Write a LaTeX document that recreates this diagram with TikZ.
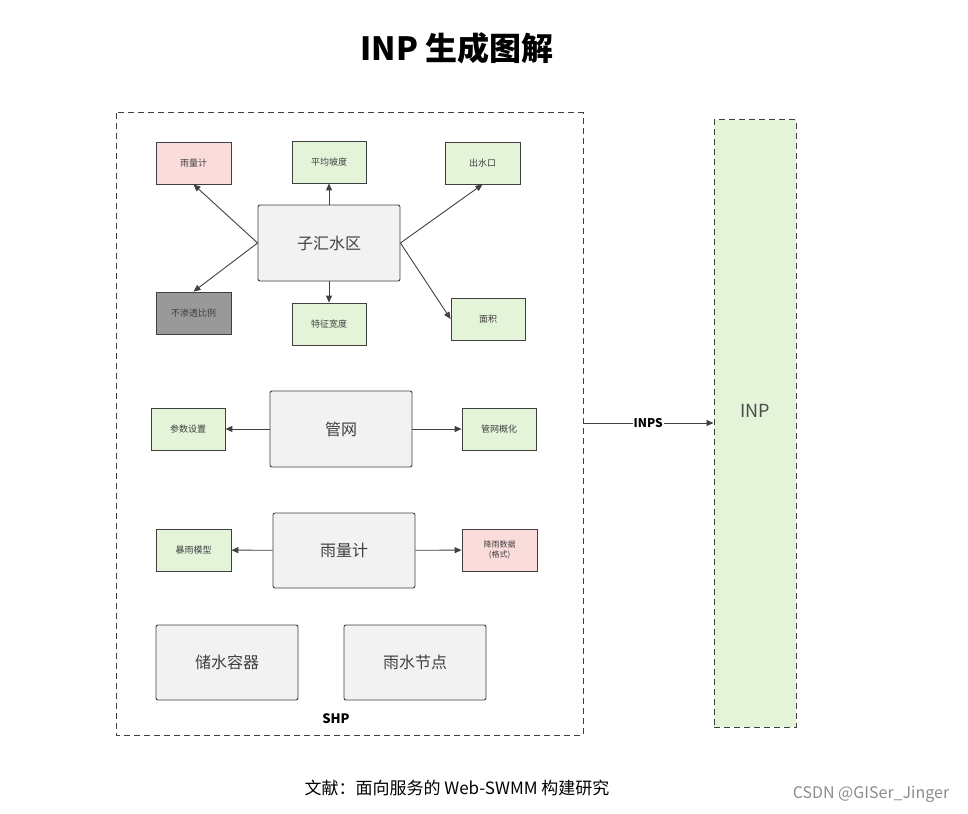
\documentclass[tikz,border=0pt]{standalone}
\usepackage{fontspec}
\setmainfont{Noto Sans CJK SC}
\usetikzlibrary{arrows.meta}
\definecolor{boxgreen}{HTML}{E3F4D9}
\definecolor{boxpink}{HTML}{FADCDA}
\definecolor{boxgray}{HTML}{F2F2F2}
\definecolor{linegray}{HTML}{404040}
\tikzset{
  big/.style={draw=linegray,line width=0.9pt,fill=boxgray,rounded corners=2pt,font=\fontsize{16}{19}\selectfont,text=black!75},
  small/.style={draw=linegray,line width=0.8pt,font=\fontsize{9}{11}\selectfont,text=black!75,align=center},
  link/.style={draw=linegray,line width=0.9pt,-{Triangle[length=7pt,width=6pt]}},
  frame/.style={draw=linegray,line width=1pt,dash pattern=on 6pt off 4pt}
}
\begin{document}
\begin{tikzpicture}[x=1pt,y=-1pt]
\useasboundingbox (0,0) rectangle (968,813);
% title and frames
\node (title) at (457,48) {\fontsize{32}{36}\selectfont\bfseries INP 生成图解};
\draw[frame] (116,113) rectangle (583,735);
\node[font=\bfseries\fontsize{13}{15}\selectfont] (shp) at (336,719) {SHP};
\node[frame,fill=boxgreen,minimum width=82pt,minimum height=607pt] (inp) at (755,423.5) {};
\node[font=\fontsize{18}{21}\selectfont,text=black!70] (inptxt) at (755,411) {INP};
\coordinate (shpout) at (583,423);
% subcatchment group
\node[big,minimum width=142pt,minimum height=76pt] (sub) at (329,243) {子汇水区};
\node[small,fill=boxpink,minimum width=75pt,minimum height=42pt] (gauge1) at (193.5,163) {雨量计};
\node[small,fill=boxgreen,minimum width=74pt,minimum height=42pt] (slope) at (329,162) {平均坡度};
\node[small,fill=boxgreen,minimum width=75pt,minimum height=42pt] (outlet) at (482.5,163) {出水口};
\node[small,fill=black!40,minimum width=75pt,minimum height=42pt] (imperv) at (193.5,313) {不渗透比例};
\node[small,fill=boxgreen,minimum width=74pt,minimum height=42pt] (width) at (329,324) {特征宽度};
\node[small,fill=boxgreen,minimum width=74pt,minimum height=42pt] (area) at (488,319) {面积};
\draw[link] (sub.west) -- (gauge1.south);
\draw[link] (sub.west) -- (imperv.north);
\draw[link] (sub.north) -- (slope.south);
\draw[link] (sub.south) -- (width.north);
\draw[link] (sub.east) -- (outlet.south);
\draw[link] (sub.east) -- (area.west);
% network group
\node[big,minimum width=142pt,minimum height=76pt] (net) at (341,429) {管网};
\node[small,fill=boxgreen,minimum width=74pt,minimum height=42pt] (param) at (188,429) {参数设置};
\node[small,fill=boxgreen,minimum width=74pt,minimum height=42pt] (netgen) at (499,429) {管网概化};
\draw[link] (net) -- (param);
\draw[link] (net) -- (netgen);
% rain gauge group
\node[big,minimum width=142pt,minimum height=75pt] (gauge2) at (344,550.5) {雨量计};
\node[small,fill=boxgreen,minimum width=75pt,minimum height=42pt] (storm) at (193.5,550) {暴雨模型};
\node[small,fill=boxpink,minimum width=75pt,minimum height=42pt,font=\fontsize{8}{10}\selectfont] (rain) at (499.5,550) {降雨数据\\(格式)};
\draw[link] (gauge2) -- (storm);
\draw[link] (gauge2) -- (rain);
% storage and junctions
\node[big,minimum width=142pt,minimum height=75pt] (store) at (227,662.5) {储水容器};
\node[big,minimum width=142pt,minimum height=75pt] (junc) at (415,662.5) {雨水节点};
% export
\draw[link] (shpout) -- (inp.west |- shpout) node[midway,fill=white,inner sep=1pt,font=\bfseries\fontsize{12}{14}\selectfont] (inps) {INPS};
\node (ref) at (457,788) {\fontsize{17}{20}\selectfont 文献：面向服务的 Web-SWMM 构建研究};
\node[text=black!45] (mark) at (871,794) {\fontsize{16}{19}\selectfont CSDN @GISer\_Jinger};
\end{tikzpicture}
\end{document}
